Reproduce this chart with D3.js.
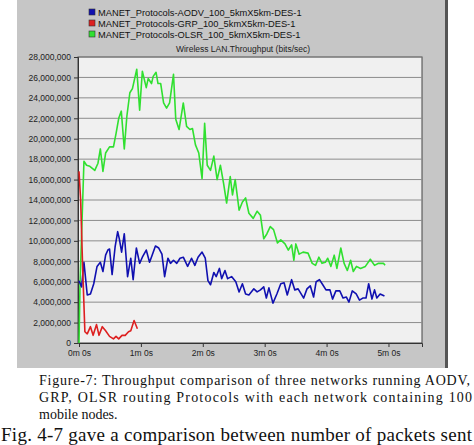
<!DOCTYPE html><html><head><meta charset="utf-8">
<script src="https://cdn.jsdelivr.net/npm/d3@7"></script>
<style>body{margin:0;background:#fff}svg{display:block}</style></head><body>
<svg id="c" width="474" height="445"></svg>
<script>
const seriesNames=["MANET_Protocols-AODV_100_5kmX5km-DES-1","MANET_Protocols-GRP_100_5kmX5km-DES-1","MANET_Protocols-OLSR_100_5kmX5km-DES-1"];
const colors=["#1010b0","#dd2020","#30e030"];
const yTicks=[0,2,4,6,8,10,12,14,16,18,20,22,24,26,28];
const xTicks=[0,60,120,180,240,300];
const xTickLabels=["0m 0s","1m 0s","2m 0s","3m 0s","4m 0s","5m 0s"];
// [seconds, millions of bits/sec]
const aodv=[[0,6.1],[2.5,5.5],[4.8,7.9],[8,4.7],[11.1,4.8],[14.3,5.8],[17.5,7.5],[20.7,7.9],[23.2,7],[25.8,8.6],[28,9.1],[29.6,9.2],[32.1,6.7],[35,9.4],[37.5,10.9],[39.1,10.2],[41.3,8.9],[43.9,10.7],[47.1,6.5],[50.2,8.3],[52.5,6.2],[55.6,9.3],[58.8,7.8],[61.4,8.4],[65.2,9.1],[68.4,7.9],[70.9,8.6],[74.1,9.5],[77.3,9.3],[80.4,8.7],[83,6.5],[86.2,8.3],[88.7,7.8],[91.6,8.1],[94.8,7.8],[97.9,8.3],[101.1,8.4],[105.3,7.5],[109.1,8.3],[112.3,7.6],[115.4,8.4],[119.3,8.9],[122.4,8.3],[125,6.1],[127.5,5.7],[130.7,6.9],[133,6.5],[136.1,7.3],[138.3,6.3],[141.5,7.1],[144.1,6.3],[147.9,6.5],[152,6],[155.2,5],[158.4,5.8],[161.5,4.8],[164.7,4.7],[169.5,5.3],[172.7,5],[175.9,5.2],[179.1,5.5],[181.6,4.4],[184.1,5.4],[188,3.9],[191.8,4.8],[195.6,5.8],[198.8,5.9],[201.9,4.7],[206.1,6.2],[209.2,5.2],[212.4,5.3],[217.8,4.4],[221,5.3],[224.2,5.6],[227.4,4.5],[229.9,6],[233.1,6.2],[236.3,5.7],[239.4,5.2],[243.3,5.2],[245.8,4.3],[249,5.1],[252.8,5.1],[256,4.4],[259.2,4.5],[261.7,4],[264.9,5.1],[268.7,4.8],[271.9,4.2],[275.1,4.4],[278.2,4.4],[280.8,5.8],[284,4.3],[286.5,5.2],[288.7,4.4],[291.9,4.8],[296.1,4.6]];
const grp=[[0,16.8],[1.6,14],[3.5,7.5],[5.7,1.1],[8,0.9],[11.1,1.6],[13.7,0.75],[17,1.8],[19.4,0.75],[22.6,1.6],[25.8,1.2],[29.6,0.65],[33.4,0.4],[35.9,0.65],[38.5,0.4],[41.7,0.75],[44.8,0.75],[48,1.1],[50.2,1.2],[53.4,2.2],[56.6,1.4]];
const olsr=[[0,0],[1,5.8],[4.8,17.8],[7.3,17.4],[10.5,17.3],[15.3,16.9],[18.4,17.6],[20.7,19],[23.2,16.8],[25.8,18.6],[29.6,19.2],[33.4,19.2],[35.9,20.5],[38.5,22],[41,22.7],[43.9,19],[46.4,22.2],[49.3,24.5],[51.8,24.9],[56,26.8],[58.8,22.8],[61.4,26.6],[65.2,25],[67.1,25.9],[70.3,25.4],[71.9,26.1],[74.7,26.5],[76.6,25.4],[79.2,25.4],[82,23.5],[84.9,23],[87.8,23.5],[91.6,26.3],[93.8,21.9],[97,20.9],[101.1,23.5],[104.3,21.2],[107.5,20.9],[110,21],[112.9,19.4],[116.1,18.6],[119.3,16.1],[121.8,21.5],[124.3,17.4],[127.5,16.9],[130.7,18.3],[133.9,16],[137.1,17.4],[140.2,15.6],[143.1,13.7],[146.6,16.3],[148.8,14.5],[151.4,16],[155.2,13],[158.4,13.8],[161.5,14.2],[164.7,12.7],[168.9,12.2],[172.7,12.9],[175.9,12.5],[179.1,10.2],[182.2,10.7],[185.4,11.4],[188.6,11.1],[192.4,9.8],[195.6,10.1],[199.7,9.7],[202.9,9.1],[206.1,9.6],[208.3,8.1],[210.2,9.7],[213.4,8.7],[217.2,8.9],[222,8.8],[226.1,7.8],[229.3,7.6],[232.5,8.4],[235.6,7.8],[238.8,7.9],[241.1,8.3],[244.2,7.5],[247.4,8.6],[250,7.3],[253.8,9.3],[257,7.8],[260.1,7.1],[263.3,8.1],[265.9,7],[269,7.5],[272.9,7.3],[277.6,7.5],[282.4,8.2],[286.5,7.6],[290.3,7.8],[295.1,7.8],[296.7,7.6]];
const captionLines=["Figure-7: Throughput comparison of three networks running AODV,","GRP, OLSR routing Protocols with each network containing 100","mobile nodes."];
const bodyLine="Fig. 4-7 gave a comparison between number of packets sent";

const svg=d3.select("#c");
svg.append("rect").attr("x",17).attr("y",0).attr("width",428).attr("height",368).attr("fill","#c6c6c6");
svg.append("rect").attr("x",445).attr("y",0).attr("width",3).attr("height",368).attr("fill","#555");
const L=78,R=422,T=57,B=343;
svg.append("rect").attr("x",L).attr("y",T).attr("width",R-L).attr("height",B-T).attr("fill","#f0f0f0").attr("stroke","#444");
const x=d3.scaleLinear().domain([0,332.5]).range([L+1,R]);
const y=d3.scaleLinear().domain([0,28]).range([B,T]);
const g=svg.append("g");
g.selectAll("line.gr").data(yTicks.slice(1)).join("line").attr("x1",L).attr("x2",R).attr("y1",d=>y(d)).attr("y2",d=>y(d)).attr("stroke","#8c8c8c").attr("stroke-width",1);
const ya=svg.append("g").attr("transform",`translate(${L},0)`).call(d3.axisLeft(y).tickValues(yTicks).tickSize(4).tickFormat(d=>d3.format(",")(d*1e6)));
const xa=svg.append("g").attr("transform",`translate(0,${B})`).call(d3.axisBottom(x).tickValues(xTicks).tickSize(4).tickFormat((d,i)=>xTickLabels[i]));
[ya,xa].forEach(a=>{a.select(".domain").attr("stroke","#333");a.selectAll("line").attr("stroke","#333");a.selectAll("text").attr("fill","#222").style("font","8.5px 'Liberation Sans',Arial,sans-serif");});
const line=d3.line().x(d=>x(d[0])).y(d=>y(d[1]));
[[olsr,2],[aodv,0],[grp,1]].forEach(([d,i])=>svg.append("path").attr("d",line(d)).attr("fill","none").attr("stroke",colors[i]).attr("stroke-width",1.6).attr("stroke-linejoin","round"));
svg.append("text").attr("x",243).attr("y",52).attr("text-anchor","middle").attr("fill","#222").style("font","8.5px 'Liberation Sans',Arial,sans-serif").text("Wireless LAN.Throughput (bits/sec)");
seriesNames.forEach((n,i)=>{
  svg.append("rect").attr("x",89).attr("y",9+i*11).attr("width",6).attr("height",6).attr("fill",colors[i]).attr("stroke","#333").attr("stroke-width",0.6);
  svg.append("text").attr("x",98).attr("y",15.5+i*11).attr("fill","#111").style("font","9.3px 'Liberation Sans',Arial,sans-serif").text(n);
});
const cap=[[39,385,431],[39,402,433],[39,419,null]];
captionLines.forEach((t,i)=>{const e=svg.append("text").attr("x",cap[i][0]).attr("y",cap[i][1]).attr("fill","#111").style("font","14px 'Liberation Serif','Times New Roman',serif").text(t);
 if(cap[i][2]) e.attr("textLength",cap[i][2]).attr("lengthAdjust","spacing");});
svg.append("text").attr("x",1).attr("y",441).attr("textLength",471).attr("lengthAdjust","spacing").attr("fill","#111").style("font","19px 'Liberation Serif','Times New Roman',serif").text(bodyLine);
</script></body></html>
